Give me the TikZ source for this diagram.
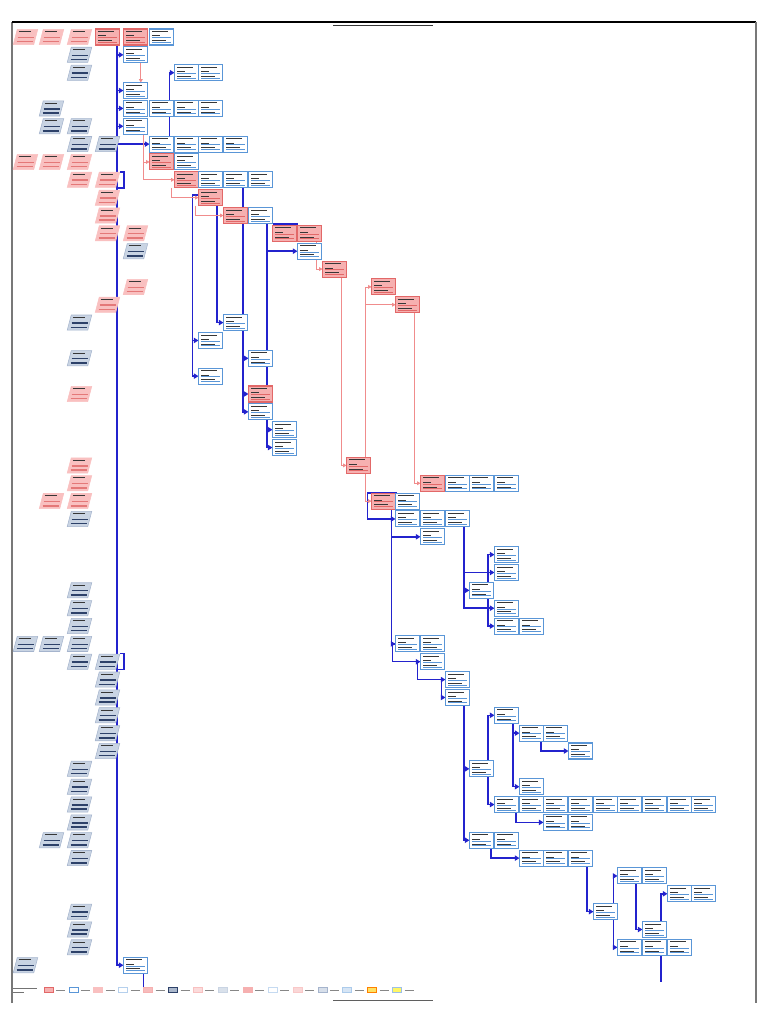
\documentclass[tikz,border=0pt]{standalone}
\usetikzlibrary{arrows.meta,backgrounds}

\definecolor{boxblue}{RGB}{90,150,215}
\definecolor{critfill}{RGB}{246,176,176}
\definecolor{critedge}{RGB}{226,104,104}
\definecolor{sumfill}{RGB}{201,212,227}
\definecolor{sumedge}{RGB}{165,180,205}
\definecolor{sumbar}{RGB}{45,65,105}
\definecolor{psumfill}{RGB}{249,192,192}
\definecolor{psumbar}{RGB}{228,120,120}
\definecolor{linkblue}{RGB}{35,35,205}
\definecolor{critline}{RGB}{240,140,140}
\definecolor{inktext}{RGB}{55,55,55}
\definecolor{framegray}{RGB}{120,120,120}

% grid cell -> centre (\xx,\yy)
\newcommand\cellxy[2]{%
  \pgfmathsetmacro\xx{{13,39,67,95,123,149,174,198,223,248,272,297,322,346,371,395,420,445,469,494,519,543,568,593,617,642,667,691,716}[#1]+12.5}%
  \pgfmathsetmacro\yy{37+17.85*#2}}

\tikzset{every picture/.style={line width=0.75pt}}
\tikzset{
  boxlines/.style={path picture={
    \draw[inktext, line width=0.7pt] ([shift={(2pt,-1.9pt)}]path picture bounding box.north west) -- ++(12pt,0pt);
    \draw[inktext, line width=0.3pt] ([shift={(2pt,-5pt)}]path picture bounding box.north west) -- ++(6pt,0pt);
    \draw[#1, line width=0.5pt] ([shift={(2pt,-6.5pt)}]path picture bounding box.north west) -- ++(14pt,0pt);
    \draw[inktext, line width=0.3pt] ([shift={(2pt,-8.6pt)}]path picture bounding box.north west) -- ++(10pt,0pt);
    \draw[#1, line width=0.5pt] ([shift={(2pt,-10pt)}]path picture bounding box.north west) -- ++(14pt,0pt);
  }},
  slant/.style n args={3}{path picture={
    \filldraw[fill=#1, draw=#2, line width=0.4pt]
      ([shift={(0.3pt,0.3pt)}]path picture bounding box.south west)
      -- ([shift={(-3.3pt,0.3pt)}]path picture bounding box.south east)
      -- ([shift={(-0.3pt,-0.3pt)}]path picture bounding box.north east)
      -- ([shift={(3.3pt,-0.3pt)}]path picture bounding box.north west) -- cycle;
    \draw[inktext, line width=0.7pt] ([shift={(4.5pt,-2pt)}]path picture bounding box.north west) -- ++(9pt,0pt);
    \draw[#3, line width=1.1pt] ([shift={(3.5pt,-6.3pt)}]path picture bounding box.north west) -- ++(12pt,0pt);
    \draw[#3, line width=1.1pt] ([shift={(2.8pt,-9.5pt)}]path picture bounding box.north west) -- ++(12pt,0pt);
  }},
  tsk/.style={rectangle, draw=boxblue, fill=white, line width=0.8pt, minimum width=18pt,
    minimum height=12pt, inner sep=0pt, outer sep=0pt, boxlines={boxblue}},
  crit/.style={tsk, draw=critedge, fill=critfill, boxlines={critedge}},
  summ/.style={rectangle, minimum width=19pt, minimum height=12pt, inner sep=0pt, outer sep=0pt,
    slant={sumfill}{sumedge}{sumbar}},
  psumm/.style={summ, slant={psumfill}{psumfill}{psumbar}},
  lnk/.style={draw=linkblue, line width=1.1pt, -{Triangle[length=3.5pt,width=4pt]}},
  clnk/.style={draw=critline, line width=0.6pt, -{Triangle[length=2.5pt,width=2.8pt]}},
  swatch/.style={rectangle, line width=0.6pt, minimum width=6.75pt, minimum height=3.75pt, inner sep=0pt}
}

\begin{document}
\begin{tikzpicture}[x=0.75pt,y=-0.75pt]
\useasboundingbox (0,0) rectangle (768,1024);

% page frame and title strips
\draw[framegray, line width=1.2pt] (12,1003) -- (12,22);
\draw[black, line width=1.1pt] (12,22) -- (756,22);
\draw[framegray, line width=1.1pt] (756,22) -- (756,1003);
\draw[inktext, line width=0.7pt] (333,25) -- (433,25);
\draw[inktext!80, line width=0.6pt] (333,1000) -- (433,1000);

% summary bars
\foreach \c/\r in {2/1,2/2,1/4,1/5,2/5,2/6,3/6,4/12,2/16,2/18,2/27,2/31,2/32,2/33,0/34,1/34,2/34,2/35,3/35,
  3/36,3/37,3/38,3/39,3/40,2/41,2/42,2/43,2/44,1/45,2/45,2/46,2/49,2/50,2/51,0/52}
  {\cellxy{\c}{\r}\node[summ] (t\c-\r) at (\xx,\yy) {};}
\foreach \c/\r in {0/0,1/0,2/0,0/7,1/7,2/7,2/8,3/8,3/9,3/10,3/11,4/11,4/14,3/15,2/20,2/24,2/25,1/26,2/26}
  {\cellxy{\c}{\r}\node[psumm] (t\c-\r) at (\xx,\yy) {};}

% critical tasks
\foreach \c/\r in {3/0,4/0,5/7,6/8,7/9,8/10,10/11,11/11,12/13,14/14,15/15,9/20,13/24,16/25,14/26}
  {\cellxy{\c}{\r}\node[crit] (t\c-\r) at (\xx,\yy) {};}

% tasks
\foreach \c/\r in {5/0,4/1,6/2,7/2,4/3,4/4,5/4,6/4,7/4,4/5,5/6,6/6,7/6,8/6,6/7,7/8,8/8,9/8,9/10,11/12,
  8/16,7/17,9/18,7/19,9/21,10/22,10/23,17/25,18/25,19/25,15/26,15/27,16/27,17/27,16/28,19/29,19/30,
  18/31,19/32,19/33,20/33,15/34,16/34,16/35,17/36,17/37,19/38,20/39,21/39,22/40,18/41,20/42,
  19/43,20/43,21/43,22/43,23/43,24/43,25/43,26/43,27/43,21/44,22/44,18/45,19/45,20/46,21/46,22/46,
  24/47,25/47,26/48,27/48,23/49,25/50,24/51,25/51,26/51,4/52}
  {\cellxy{\c}{\r}\node[tsk] (t\c-\r) at (\xx,\yy) {};}

\begin{pgfonlayer}{background}
% main link bus
\foreach \tg in {t4-1,t4-3,t4-4,t4-5,t5-6,t4-52}
  \draw[lnk] ([xshift=-2pt]t3-0.south east) |- (\tg.west);
\draw[lnk,-] (t3-8.north east) -- ++(4,0) |- ([xshift=-3pt]t3-8.south east);
\draw[lnk,-] (t3-35.north east) -- ++(4,0) |- ([xshift=-3pt]t3-35.south east);
\coordinate (tailL) at ([xshift=-3pt,yshift=-10pt]t4-52.south east);
\draw[lnk,-] ([xshift=-3pt]t4-52.south east) -- (tailL);

% links
\draw[lnk] ([xshift=-3pt]t5-6.north east) |- (t6-2.west);
\draw[lnk] ([yshift=2pt]t7-9.west) -- ++(-6,0) |- (t7-17.west);
\draw[lnk] ([yshift=2pt]t7-9.west) -- ++(-6,0) |- (t7-19.west);
\draw[lnk] ([xshift=-4pt]t7-9.south east) |- (t8-16.west);
\foreach \tg in {t9-18,t9-20,t9-21}
  \draw[lnk] ([xshift=-4pt]t9-8.south west) |- (\tg.west);
\foreach \tg in {t11-12,t10-22,t10-23}
  \draw[lnk] ([xshift=-4pt]t9-10.south east) |- (\tg.west);
\draw[lnk,-] ([yshift=1pt]t10-11.north west) -- ([yshift=1pt]t11-11.north west);
\draw[lnk] ([xshift=1pt]t14-26.north east) -| ([xshift=-3pt]t14-26.west) |- (t15-27.west);
\foreach \tg in {t16-28,t15-34}
  \draw[lnk] ([xshift=-3pt]t14-26.south east) |- (\tg.west);
\foreach \tg in {t19-30,t18-31,t19-32}
  \draw[lnk] ([xshift=-4pt]t17-27.south east) |- (\tg.west);
\draw[lnk] ([xshift=-4pt]t18-31.north east) |- (t19-29.west);
\draw[lnk] ([xshift=-4pt]t18-31.south east) |- (t19-33.west);
\draw[lnk] (t15-34.west) -- ++(-3,0) |- (t16-35.west);
\draw[lnk] (t16-35.west) -- ++(-3,0) |- (t17-36.west);
\draw[lnk] (t17-36.west) -- ++(-4,0) |- (t17-37.west);
\foreach \tg in {t18-41,t18-45}
  \draw[lnk] ([xshift=-4pt]t17-37.south east) |- (\tg.west);
\draw[lnk] ([xshift=-4pt]t18-41.north east) |- (t19-38.west);
\draw[lnk] ([xshift=-4pt]t18-41.south east) |- (t19-43.west);
\foreach \tg in {t20-39,t20-42}
  \draw[lnk] ([xshift=-4pt]t19-38.south east) |- (\tg.west);
\draw[lnk] ([xshift=-2pt]t20-39.south east) |- (t22-40.west);
\draw[lnk] ([xshift=-2pt]t19-43.south east) |- (t21-44.west);
\draw[lnk] ([xshift=-2pt]t18-45.south east) |- (t20-46.west);
\draw[lnk] ([xshift=-4pt]t22-46.south east) |- (t23-49.west);
\draw[lnk] ([xshift=-3pt]t23-49.north east) |- (t24-47.west);
\draw[lnk] ([xshift=-3pt]t23-49.south east) |- (t24-51.west);
\draw[lnk] ([xshift=-4pt]t24-47.south east) |- (t25-50.west);
\draw[lnk] ([xshift=-4pt]t25-50.north east) |- (t26-48.west);
\coordinate (tailR) at ([xshift=-4pt,yshift=-20pt]t25-51.south east);
\draw[lnk,-] ([xshift=-4pt]t25-51.south east) -- (tailR);

% critical links
\draw[clnk] ([xshift=-5pt]t4-1.south east) -- ([xshift=-5pt]t4-3.north east);
\draw[clnk] ([xshift=-3pt]t4-5.south east) |- (t5-7.west);
\draw[clnk] ([xshift=-3pt]t4-5.south east) |- (t6-8.west);
\draw[clnk] ([xshift=-2pt]t6-8.south west) |- (t7-9.west);
\draw[clnk] ([xshift=-2pt]t7-9.south west) |- (t8-10.west);
\draw[clnk] ([xshift=-4pt]t11-11.south east) |- (t12-13.west);
\draw[clnk] ([xshift=-4pt]t12-13.south east) |- (t13-24.west);
\draw[clnk] ([xshift=-4pt]t13-24.north east) |- (t14-14.west);
\draw[clnk] ([xshift=-4pt]t13-24.north east) |- (t15-15.west);
\draw[clnk] ([xshift=-4pt]t13-24.south east) |- (t14-26.west);
\draw[clnk] ([xshift=-4pt]t15-15.south east) |- (t16-25.west);
\end{pgfonlayer}

% legend
\draw[inktext!70, line width=0.4pt] (13,988) -- (37,988);
\draw[inktext!70, line width=0.4pt] (13,992) -- (24,992);
\foreach \i/\f/\d in {0/critfill/critedge, 1/white/boxblue, 2/psumfill/psumfill, 3/white/boxblue!45,
  4/critfill!85/critfill, 5/sumfill!80!sumbar/sumbar, 6/critfill!45/critfill!80, 7/sumfill!70/sumfill,
  8/critfill/critfill, 9/white/boxblue!35, 10/critfill!50/critfill!70, 11/sumfill!75/sumedge,
  12/boxblue!25/boxblue!50, 13/yellow!70!orange!60/orange, 14/yellow!60/boxblue!60}
  {\node[swatch, fill=\f, draw=\d] (lg\i) at ({48.5+24.9*\i},990) {};
   \draw[inktext!60, line width=0.4pt] ([xshift=2pt]lg\i.east) -- ++(9,0);}

\end{tikzpicture}
\end{document}
